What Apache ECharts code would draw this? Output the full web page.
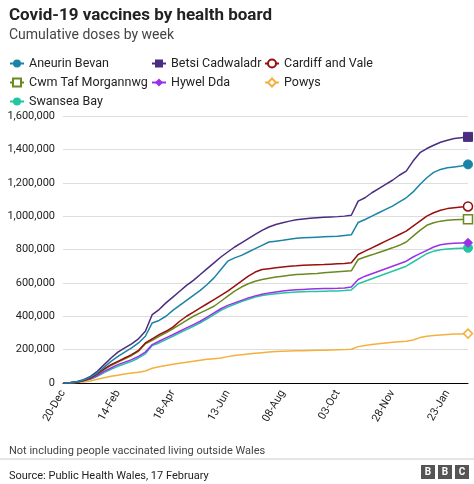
<!DOCTYPE html>
<html>
<head>
<meta charset="utf-8">
<script src="https://cdn.jsdelivr.net/npm/echarts@6/dist/echarts.min.js"></script>
<style>
  body { margin: 0; background: #fff; }
  #chart { width: 474px; height: 484px; }
</style>
</head>
<body>
<div id="chart"></div>
<script>
// weekly dates from 20-Dec-2020 (one week missing between Feb and Apr in the source)
const categories = [];
const start = new Date(2020, 11, 20);
const MONTHS = ['Jan', 'Feb', 'Mar', 'Apr', 'May', 'Jun', 'Jul', 'Aug', 'Sep', 'Oct', 'Nov', 'Dec'];
for (let i = 0, w = 0; i < 60; i++, w++) {
  if (i === 12) w++;
  const d = new Date(start.getTime() + w * 7 * 86400000);
  categories.push(String(d.getDate()).padStart(2, '0') + '-' + MONTHS[d.getMonth()]);
}

const aneurinBevan = [0, 2000, 7000, 18000, 35000, 60000, 95000, 130000, 160000, 185000, 210000, 240000, 280000, 360000, 375000, 400000, 435000, 465000, 495000, 525000, 555000, 590000, 630000, 680000, 730000, 750000, 765000, 785000, 805000, 825000, 845000, 850000, 855000, 862000, 868000, 870000, 872000, 874000, 876000, 878000, 880000, 884000, 888000, 962000, 980000, 1000000, 1020000, 1040000, 1060000, 1085000, 1110000, 1145000, 1190000, 1230000, 1262000, 1280000, 1290000, 1295000, 1300000, 1310000];
const betsiCadwaladr = [0, 2000, 8000, 20000, 40000, 70000, 110000, 150000, 185000, 210000, 235000, 265000, 310000, 410000, 440000, 480000, 515000, 550000, 585000, 615000, 650000, 685000, 720000, 755000, 785000, 815000, 840000, 865000, 890000, 915000, 935000, 950000, 960000, 970000, 978000, 983000, 987000, 990000, 993000, 995000, 997000, 1000000, 1005000, 1090000, 1110000, 1140000, 1165000, 1190000, 1215000, 1245000, 1270000, 1330000, 1380000, 1405000, 1425000, 1443000, 1455000, 1465000, 1470000, 1475000];
const cardiffVale = [0, 2000, 6000, 15000, 30000, 55000, 85000, 110000, 130000, 150000, 170000, 195000, 240000, 265000, 290000, 310000, 335000, 370000, 400000, 425000, 450000, 475000, 500000, 525000, 550000, 580000, 610000, 640000, 665000, 680000, 685000, 690000, 695000, 700000, 702000, 705000, 707000, 709000, 710000, 712000, 714000, 716000, 720000, 770000, 790000, 810000, 830000, 850000, 870000, 890000, 910000, 940000, 970000, 1000000, 1020000, 1035000, 1045000, 1050000, 1055000, 1058000];
const cwmTaf = [0, 2000, 6000, 15000, 30000, 55000, 80000, 105000, 125000, 145000, 165000, 190000, 235000, 255000, 280000, 300000, 325000, 350000, 375000, 400000, 420000, 440000, 460000, 490000, 520000, 550000, 575000, 595000, 610000, 620000, 628000, 635000, 640000, 645000, 650000, 652000, 654000, 656000, 660000, 663000, 666000, 669000, 672000, 740000, 755000, 768000, 782000, 796000, 810000, 825000, 845000, 880000, 915000, 945000, 960000, 970000, 975000, 978000, 980000, 982000];
const hywelDda = [0, 2000, 5000, 13000, 25000, 45000, 70000, 90000, 110000, 125000, 140000, 160000, 185000, 230000, 250000, 270000, 290000, 310000, 330000, 350000, 370000, 395000, 420000, 445000, 465000, 480000, 495000, 510000, 522000, 532000, 540000, 546000, 552000, 556000, 559000, 561000, 563000, 565000, 566000, 567000, 568000, 570000, 575000, 620000, 640000, 655000, 670000, 685000, 700000, 715000, 730000, 755000, 775000, 795000, 815000, 828000, 834000, 837000, 839000, 840000];
const powys = [0, 1000, 3000, 6000, 12000, 22000, 32000, 40000, 47000, 54000, 60000, 65000, 72000, 88000, 97000, 105000, 112000, 118000, 124000, 130000, 136000, 142000, 146000, 150000, 158000, 165000, 170000, 174000, 178000, 182000, 186000, 189000, 191000, 192000, 193000, 194000, 195000, 196000, 197000, 198000, 199000, 200000, 202000, 218000, 225000, 230000, 235000, 240000, 244000, 247000, 250000, 258000, 272000, 280000, 285000, 288000, 291000, 293000, 294000, 296000];
const swanseaBay = [0, 2000, 5000, 12000, 22000, 40000, 62000, 82000, 100000, 115000, 130000, 150000, 175000, 225000, 240000, 260000, 280000, 300000, 320000, 340000, 360000, 385000, 410000, 435000, 455000, 472000, 488000, 502000, 515000, 524000, 530000, 535000, 540000, 543000, 545000, 547000, 548000, 549000, 550000, 551000, 552000, 554000, 558000, 595000, 610000, 625000, 640000, 655000, 670000, 685000, 700000, 725000, 750000, 775000, 790000, 798000, 803000, 806000, 808000, 810000];

const yTicks = [0, 200000, 400000, 600000, 800000, 1000000, 1200000, 1400000, 1600000];

const seriesDefs = [
  { name: 'Aneurin Bevan', data: aneurinBevan, color: '#1a84a6', symbol: 'circle', hollow: false, lx: 4, ly: 52 },
  { name: 'Betsi Cadwaladr', data: betsiCadwaladr, color: '#4b2d80', symbol: 'rect', hollow: false, lx: 146, ly: 52 },
  { name: 'Cardiff and Vale', data: cardiffVale, color: '#990f0f', symbol: 'circle', hollow: true, lx: 259, ly: 52 },
  { name: 'Cwm Taf Morgannwg', data: cwmTaf, color: '#6b8a1e', symbol: 'rect', hollow: true, lx: 4, ly: 71 },
  { name: 'Hywel Dda', data: hywelDda, color: '#9b30e8', symbol: 'diamond', hollow: false, lx: 146, ly: 71 },
  { name: 'Powys', data: powys, color: '#f5b03c', symbol: 'diamond', hollow: true, lx: 259, ly: 71 },
  { name: 'Swansea Bay', data: swanseaBay, color: '#22c7a0', symbol: 'circle', hollow: false, lx: 4, ly: 90 },
];

const legendTextStyle = { fontFamily: 'Roboto', fontSize: 12.5, color: '#222' };

const chart = echarts.init(document.getElementById('chart'));
chart.setOption({
  animation: false,
  textStyle: { fontFamily: 'Roboto' },
  title: [
    { text: 'Covid-19 vaccines by health board', left: 4, top: 2,
      textStyle: { fontSize: 17, fontWeight: 'bold', color: '#222', fontFamily: 'Roboto' } },
    { text: 'Cumulative doses by week', left: 4, top: 23,
      textStyle: { fontSize: 14, fontWeight: 'normal', color: '#444', fontFamily: 'Roboto' } },
    { text: 'Not including people vaccinated living outside Wales', left: 4, top: 441,
      textStyle: { fontSize: 11, fontWeight: 'normal', color: '#444', fontFamily: 'Roboto' } },
    { text: 'Source: Public Health Wales, 17 February', left: 4, top: 466,
      textStyle: { fontSize: 11, fontWeight: 'normal', color: '#222', fontFamily: 'Roboto' } },
  ],
  legend: seriesDefs.map(s => ({
    data: [s.name], left: s.lx, top: s.ly, itemWidth: 14, itemHeight: 10, itemGap: 4,
    textStyle: legendTextStyle, selectedMode: false,
  })),
  graphic: [
    { type: 'line', shape: { x1: 0, y1: 459, x2: 474, y2: 459 }, style: { stroke: '#ccc', lineWidth: 1 } },
    ...['B', 'B', 'C'].map((t, i) => ({
      type: 'group', left: 421 + i * 17, top: 465,
      children: [
        { type: 'rect', shape: { x: 0, y: 0, width: 14, height: 14 }, style: { fill: '#555' } },
        { type: 'text', style: { text: t, x: 7, y: 7, fill: '#fff', font: 'bold 10px Roboto', align: 'center', verticalAlign: 'middle' } },
      ],
    })),
  ],
  grid: { left: 63, right: 6, top: 116, bottom: 101, containLabel: false },
  xAxis: {
    type: 'category',
    data: categories,
    boundaryGap: false,
    axisLine: { lineStyle: { color: '#000', width: 1 } },
    axisTick: { show: false },
    axisLabel: { interval: 7, rotate: 60, fontSize: 11, color: '#222', margin: 8 },
  },
  yAxis: {
    type: 'value',
    min: 0,
    max: 1600000,
    interval: 200000,
    axisLine: { show: false },
    axisTick: { show: false },
    splitLine: { lineStyle: { color: '#ddd' } },
    axisLabel: {
      fontSize: 11, color: '#222', margin: 8,
      formatter: v => yTicks.includes(v) ? v.toLocaleString('en-GB') : '',
    },
  },
  series: seriesDefs.map(s => ({
    name: s.name,
    type: 'line',
    data: s.data,
    symbol: s.symbol,
    showSymbol: true,
    symbolSize: (v, p) => (p.dataIndex === s.data.length - 1 ? 9 : 0),
    lineStyle: { color: s.color, width: 1.5 },
    itemStyle: s.hollow
      ? { color: '#fff', borderColor: s.color, borderWidth: 1.5 }
      : { color: s.color, borderColor: s.color },
    z: 10 - seriesDefs.indexOf(s),
  })),
});
</script>
</body>
</html>
